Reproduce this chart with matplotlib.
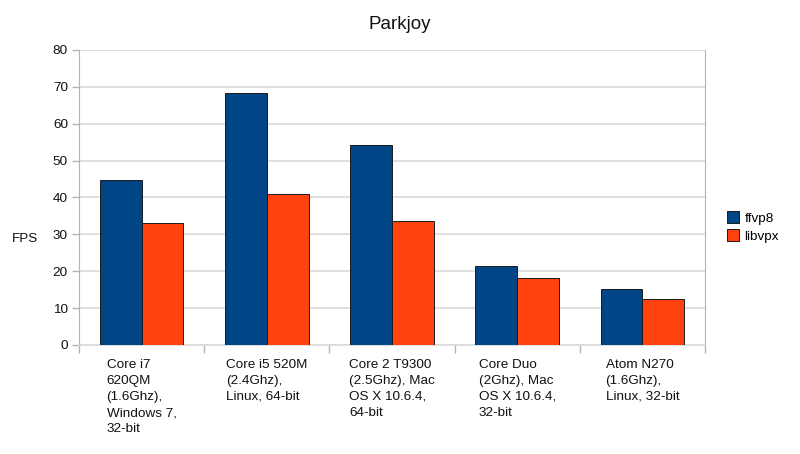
import numpy as np
import matplotlib.pyplot as plt
from matplotlib.ticker import FixedLocator

plt.rcParams['font.family'] = ['Liberation Sans', 'DejaVu Sans']

categories = ['Core i7\n620QM\n(1.6Ghz),\nWindows 7,\n32-bit',
              'Core i5 520M\n(2.4Ghz),\nLinux, 64-bit',
              'Core 2 T9300\n(2.5Ghz), Mac\nOS X 10.6.4,\n64-bit',
              'Core Duo\n(2Ghz), Mac\nOS X 10.6.4,\n32-bit',
              'Atom N270\n(1.6Ghz),\nLinux, 32-bit']
ffvp8 = [44.7, 68.4, 54.2, 21.4, 15.3]
libvpx = [33.1, 40.9, 33.7, 18.1, 12.5]
yticks = [0, 10, 20, 30, 40, 50, 60, 70, 80]

fig = plt.figure(figsize=(8, 4.54), dpi=100)
ax = fig.add_axes([0.09875, 0.2401, 0.7825, 0.6498])

x = np.arange(len(categories))
w = 1 / 3
b1 = ax.bar(x - w / 2, ffvp8, w, color='#004586', edgecolor='#1a1a1a', linewidth=0.7, label='ffvp8', zorder=3)
b2 = ax.bar(x + w / 2, libvpx, w, color='#ff420e', edgecolor='#1a1a1a', linewidth=0.7, label='libvpx', zorder=3)

ax.set_xlim(-0.5, len(categories) - 0.5)
ax.set_ylim(0, 80)
ax.set_yticks(yticks)
ax.yaxis.grid(True, color='#d9d9d9', linewidth=1.2, zorder=0)
ax.set_xticks(x)
ax.set_xticklabels(categories, fontsize=9.7, color='#111111')
for lab in ax.get_xticklabels():
    lab.set_multialignment('left')
    lab.set_linespacing(1.45)
ax.xaxis.set_minor_locator(FixedLocator(np.arange(-0.5, len(categories), 1)))
ax.tick_params(axis='x', which='major', length=0, pad=10)
ax.tick_params(axis='x', which='minor', length=6, color='#b3b3b3', width=1)
ax.tick_params(axis='y', length=5, color='#b3b3b3', width=1, labelsize=9.7, pad=3, labelcolor='#111111')

for s in ['left', 'right']:
    ax.spines[s].set_color('#b3b3b3')
ax.spines['top'].set_visible(False)
ax.spines['bottom'].set_color('#d9d9d9')
ax.spines['bottom'].set_linewidth(1.2)

fig.text(0.5, 0.936, 'Parkjoy', ha='center', va='baseline', fontsize=13.5, color='#111111')
fig.text(0.031, 0.473, 'FPS', ha='center', va='center', fontsize=9.7, color='#111111')

fig.legend(handles=[b1, b2], loc='center left', bbox_to_anchor=(0.902, 0.50),
           frameon=False, fontsize=9.7, handlelength=0.9, handleheight=0.9,
           handletextpad=0.4, labelspacing=0.35, borderaxespad=0)

fig.savefig('out.png', dpi=100)
